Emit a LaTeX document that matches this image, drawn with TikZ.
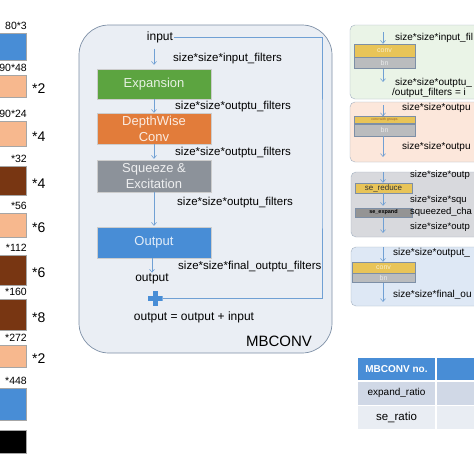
\documentclass[tikz,border=0pt]{standalone}
\usepackage{fontspec}
\setmainfont{Liberation Sans}
\usetikzlibrary{arrows.meta,positioning}
\definecolor{mbblue}{RGB}{72,141,214}
\definecolor{mbgreen}{RGB}{92,164,64}
\definecolor{mborange}{RGB}{226,124,58}
\definecolor{mbgray}{RGB}{140,146,154}
\definecolor{mbpeach}{RGB}{247,184,142}
\definecolor{mbbrown}{RGB}{120,54,18}
\definecolor{mbpanel}{RGB}{234,238,244}
\definecolor{mbedge}{RGB}{125,143,166}
\definecolor{mbarrow}{RGB}{112,160,212}
\definecolor{mbyellow}{RGB}{232,196,88}
\definecolor{mbbn}{RGB}{186,188,190}
\definecolor{mbgreenbg}{RGB}{234,244,231}
\definecolor{mbpeachbg}{RGB}{252,231,219}
\definecolor{mbgraybg}{RGB}{216,217,221}
\definecolor{mbbluebg}{RGB}{222,232,245}
\definecolor{mbrowa}{RGB}{208,216,230}
\definecolor{mbrowb}{RGB}{233,237,243}
\tikzset{
  mbouter/.style={draw=mbedge, fill=mbpanel, line width=0.7pt, rounded corners=30pt},
  mbstage/.style={draw=black!20, fill=#1, minimum width=114pt, minimum height=31pt, align=center, inner sep=0pt, text=white, text opacity=0.85, font=\fontsize{13}{16}\selectfont},
  mblabel/.style={anchor=west, inner sep=0pt, font=\fontsize{11.5}{13}\selectfont},
  mbarr/.style={-{Straight Barb[length=3pt,width=5pt]}, draw=mbarrow, line width=0.6pt},
  mbline/.style={draw=mbarrow, line width=0.7pt},
  mbsize/.style={anchor=east, inner sep=0pt, font=\fontsize{10.5}{12}\selectfont},
  mbrepeat/.style={anchor=west, inner sep=0pt, font=\fontsize{14}{16}\selectfont},
  mbgroup/.style={draw=mbedge!70, fill=#1, rounded corners=5pt, minimum width=140pt, inner sep=0pt},
  mbconvbox/.style={draw=mbedge, fill=mbyellow, minimum width=61pt, inner sep=0pt, text=white!70!mbyellow, font=\fontsize{7}{8}\selectfont},
  mbbnbox/.style={draw=mbedge, fill=mbbn, minimum width=61pt, inner sep=0pt, text=white!70!mbbn, font=\fontsize{7}{8}\selectfont},
  mbnote/.style={anchor=west, inner sep=0pt, font=\fontsize{10}{11}\selectfont},
  mbcell/.style={fill=#1, minimum height=23pt, inner sep=0pt}
}

\begin{document}
\begin{tikzpicture}[x=1pt,y=-1pt]
  \useasboundingbox (0,0) rectangle (474,474);
  \clip (0,0) rectangle (474,474);
  \fill[white] (0,0) rectangle (474,474);

  % stages of the network
  \foreach \top/\bot/\col/\lab/\rep [count=\i] in {33/60/mbblue/80*3/, 75/97/mbpeach/90*48/*2,
      121/146/mbpeach/90*24/*4, 166/195/mbbrown/*32/*4, 213/237/mbpeach/*56/*6,
      255/285/mbbrown/*112/*6, 299/330/mbbrown/*160/*8, 345/367/mbpeach/*272/*2,
      388/420/mbblue/*448/, 430/453/black//}
  {
    \node[draw=black!35, fill=\col, minimum width=31pt, minimum height={\bot-\top}, inner sep=0pt] (bar\i) at (10.5,{(\top+\bot)/2}) {};
    \node[mbsize] (size\i) at (27,\top-7) {\lab};
    \node[mbrepeat] (rep\i) at (32,{(\top+\bot)/2+3}) {\rep};
  }

  % MBCONV block
  \node[mbouter, minimum width=253pt, minimum height=328pt] (mbconv) at (205.5,189) {};
  \node[inner sep=1pt, font=\fontsize{12}{14}\selectfont] (input) at (160,37) {input};
  \node[mbstage=mbgreen, minimum height=30pt] (expand) at (154,84) {Expansion};
  \node[mbstage=mborange] (dwconv) at (154,128.5) {DepthWise\\Conv};
  \node[mbstage=mbgray, minimum height=32pt] (squeeze) at (154,176) {Squeeze \&\\Excitation};
  \node[mbstage=mbblue] (output) at (154,242.5) {Output};
  \node[inner sep=1pt, font=\fontsize{12}{14}\selectfont] (outtxt) at (152,279) {output};
  \node[minimum size=15pt, inner sep=0pt, path picture={
      \fill[mbblue] ([xshift=-7.5pt,yshift=-2.5pt]path picture bounding box.center) rectangle ++(15pt,5pt);
      \fill[mbblue] ([xshift=-2.5pt,yshift=-7.5pt]path picture bounding box.center) rectangle ++(5pt,15pt);}] (plus) at (155,298) {};
  \node[inner sep=0pt, font=\fontsize{12}{14}\selectfont] (sum) at (194,317) {output = output + input};
  \node[inner sep=0pt, font=\fontsize{15}{17}\selectfont] (mbname) at (279,341) {MBCONV};

  \node[mblabel] (lin) at (173,59) {size*size*input\_filters};
  \node[mblabel] (lexp) at (175,107) {size*size*outptu\_filters};
  \node[mblabel] (ldw) at (175,153) {size*size*outptu\_filters};
  \node[mblabel] (lse) at (177,203) {size*size*outptu\_filters};
  \node[mblabel] (lout) at (178,267) {size*size*final\_outptu\_filters};

  \draw[mbarr, shorten <=5pt, shorten >=4pt] (input.south -| expand.north) -- (expand.north);
  \draw[mbarr] (expand) -- (dwconv);
  \draw[mbarr, shorten >=1pt] (dwconv) -- (squeeze);
  \draw[mbarr, shorten >=1pt] (squeeze) -- (output);
  \draw[mbarr] (output.south -| outtxt) -- (outtxt);
  \coordinate (skip) at (322,160);
  \draw[mbline] (input.east) -| (skip) |- (plus.east);

  % layer details
  \node[mbgroup=mbgreenbg, minimum height=74pt] (grpexp) at (420,62) {};
  \node[mbgroup=mbpeachbg, minimum height=60pt] (grpdw) at (420,132) {};
  \node[mbgroup=mbgraybg, minimum height=65pt] (grpse) at (421,204.5) {};
  \node[mbgroup=mbbluebg, minimum height=59pt] (grpout) at (421,276.5) {};

  \node[mbconvbox, minimum height=13pt] (conva) at (384.5,50.5) {conv};
  \node[mbbnbox, minimum height=11pt, below=0pt of conva] (bna) {bn};
  \coordinate (ina) at (383,32);
  \coordinate (outa) at (383,82);
  \draw[mbarr] (ina) -- (ina |- conva.north);
  \draw[mbarr] (bna.south -| outa) -- (outa);
  \node[mbnote] (na) at (395,38) {size*size*input\_fil};
  \node[mbnote] (nb) at (395,83) {size*size*outptu\_};
  \node[mbnote] (nc) at (392,93) {/output\_filters = i};

  \node[mbconvbox, minimum height=7pt, text=mbbrown!70!mbyellow, font=\fontsize{3.5}{4}\selectfont] (convb) at (384.5,120) {conv with groups};
  \node[mbbnbox, minimum height=12pt, below=0pt of convb] (bnb) {bn};
  \coordinate (inb) at (383,105);
  \coordinate (outb) at (383,157);
  \draw[mbarr] (inb) -- (inb |- convb.north);
  \draw[mbarr] (bnb.south -| outb) -- (outb);
  \node[mbnote] (nd) at (402,108) {size*size*outpu};
  \node[mbnote] (ne) at (402,147) {size*size*outpu};

  \node[mbconvbox, minimum width=57pt, minimum height=10pt, text=black!80, font=\fontsize{8}{9}\selectfont] (sered) at (383.5,188) {se\_reduce};
  \node[mbbnbox, minimum width=57pt, minimum height=9pt, fill=black!42, text=black, font=\bfseries\fontsize{5.5}{6}\selectfont] (seexp) at (383.5,212.5) {se\_expand};
  \coordinate (inc) at (383,172);
  \coordinate (outc) at (383,233);
  \draw[mbarr] (inc) -- (inc |- sered.north);
  \draw[mbarr, shorten >=2pt] (sered.south -| inc) -- (inc |- seexp.north);
  \draw[mbarr] (seexp.south -| outc) -- (outc);
  \node[mbnote, font=\fontsize{9.5}{11}\selectfont] (nf) at (410,175) {size*size*outp};
  \node[mbnote, font=\fontsize{9.5}{11}\selectfont] (ng) at (410,200) {size*size*squ};
  \node[mbnote, font=\fontsize{9.5}{11}\selectfont] (nh) at (410,212) {squeezed\_cha};
  \node[mbnote, font=\fontsize{9.5}{11}\selectfont] (ni) at (410,227) {size*size*outp};

  \node[mbconvbox, minimum width=63pt, minimum height=11pt] (convd) at (383.5,267.5) {conv};
  \node[mbbnbox, minimum width=63pt, minimum height=9pt, below=0pt of convd] (bnd) {bn};
  \coordinate (ind) at (383,247);
  \coordinate (outd) at (383,302);
  \draw[mbarr] (ind) -- (ind |- convd.north);
  \draw[mbarr] (bnd.south -| outd) -- (outd);
  \node[mbnote] (nj) at (393,253) {size*size*output\_};
  \node[mbnote] (nk) at (393,295) {size*size*final\_ou};

  % ratios table
  \node[mbcell=mbblue, minimum width=77pt, minimum height=22pt, text=white, font=\bfseries\fontsize{10}{12}\selectfont] (thead) at (396.5,369) {MBCONV no.};
  \node[mbcell=mbblue, minimum width=53pt, minimum height=22pt] (theadv) at (463.5,369) {};
  \node[mbcell=mbrowa, minimum width=77pt, font=\fontsize{10}{12}\selectfont] (texp) at (396.5,393) {expand\_ratio};
  \node[mbcell=mbrowa, minimum width=53pt] (texpv) at (463.5,393) {};
  \node[mbcell=mbrowb, minimum width=77pt, font=\fontsize{11.5}{13}\selectfont] (tse) at (396.5,417.5) {se\_ratio};
  \node[mbcell=mbrowb, minimum width=53pt] (tsev) at (463.5,417.5) {};
\end{tikzpicture}
\end{document}
